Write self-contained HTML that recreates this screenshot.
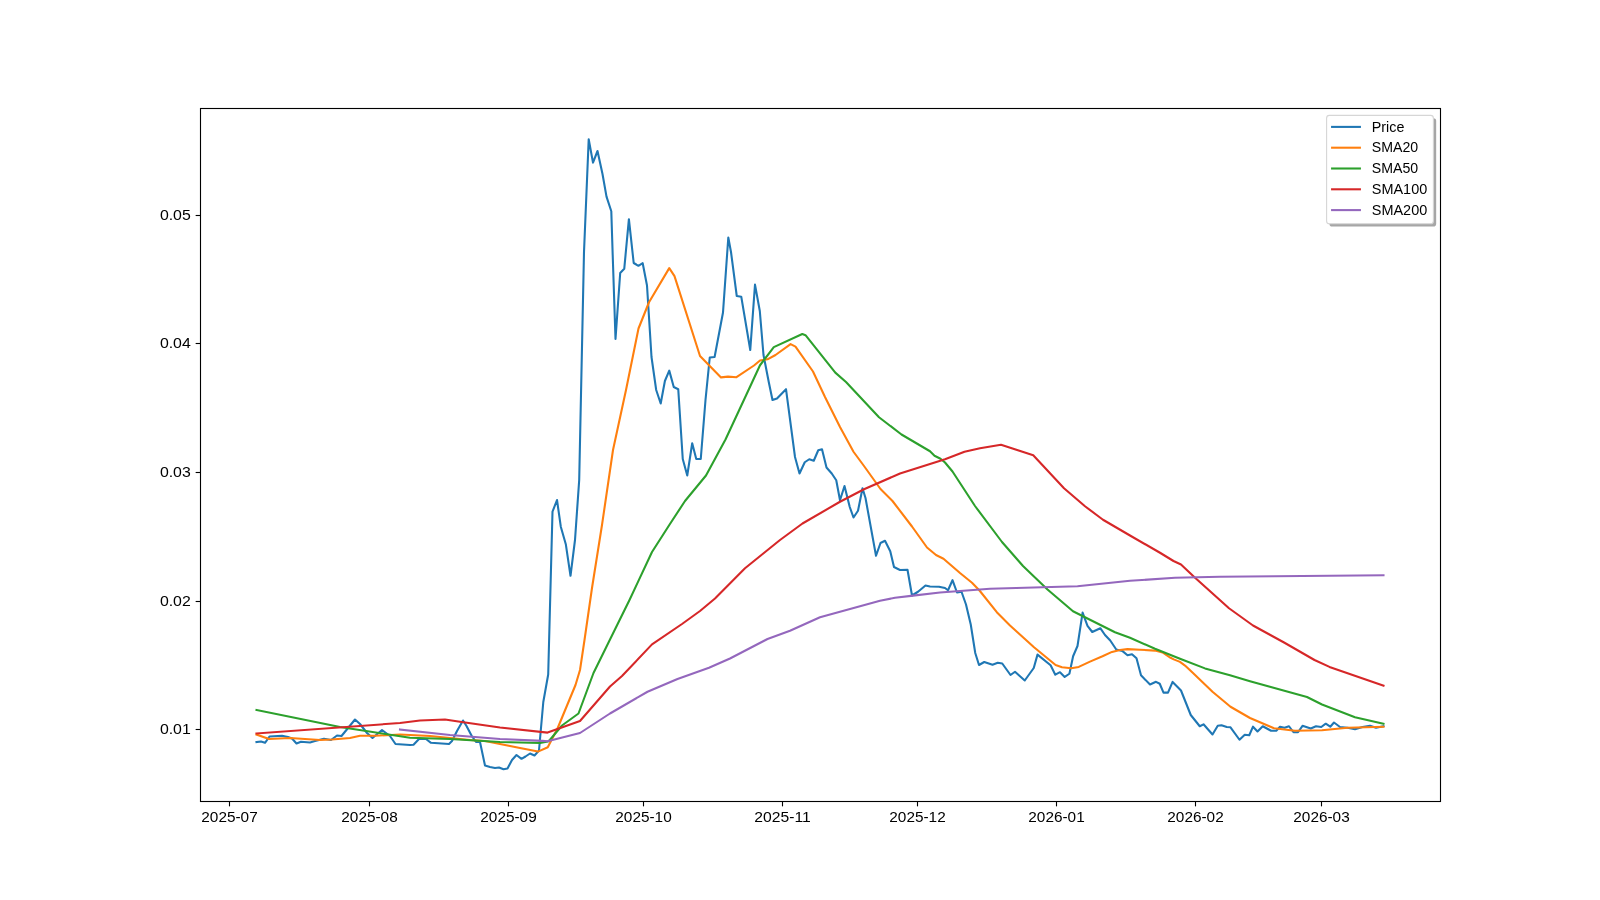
<!DOCTYPE html>
<html><head><meta charset="utf-8"><style>html,body{margin:0;padding:0;background:#fff;}svg{display:block;will-change:transform;}</style></head><body>
<svg width="1600" height="900" viewBox="0 0 1600 900">
<defs><clipPath id="ax"><rect x="200" y="108" width="1240" height="693"/></clipPath></defs>
<g clip-path="url(#ax)" fill="none" stroke-width="2.08" stroke-linejoin="round" stroke-linecap="square">
<polyline stroke="#1f77b4" points="256.5,742 261,741.5 265,742.8 269.5,736.5 282,735.8 288,737 292,738.5 296.5,743.5 301,741.8 310,742.5 315,741 324,738.7 331,740 337,735.5 341.5,736 355,719.5 360,724 367,733 372.5,738 382,730 390,736 395.5,744 410,745 413.5,744.8 419,739 426,739 431,742.8 449,744 452,741 457,731 463,720.5 466.5,726 471.5,735.5 476,742 480,742 485,765.5 490,767 495,768 499,767.5 503.5,769.3 507.5,768.5 512,760 516.5,755 521.5,758.8 525.5,756.5 530,753.5 534.5,755.5 539,750.5 543.3,702 548.2,674.5 552.5,511.7 557,500 560.8,526.7 565.8,544.2 570.5,575.8 575,540 579.2,480 584,252 588.7,139.2 593,162.6 597.5,151 602.5,174 606.5,196.6 611.3,211.2 612.7,255 615.5,339 620.2,273 624.25,268.8 628.9,219.2 633.7,263 638.4,265.8 642.7,263.2 647,285.5 651.5,357 656.2,390 660.7,403.5 664.9,381 669.25,370.6 673.75,387 678.25,389.25 682.75,459 687.25,475.5 692.2,443.25 696.25,459 700.75,459 705.5,400 709.75,357.5 714.6,357 723,312.5 728.3,237.5 731,252 736.75,296 741.25,296.7 750.25,350 755,284.6 759.8,311 763.5,355 768.75,382 772.5,400 777,398.5 786,389.2 795,457 799.5,473.5 804.75,462.25 809.25,459.25 813.75,460.75 818.25,450.25 822,449.2 826.5,467.5 831.75,473.5 836.25,480.25 840,500.25 844.5,486 849.75,507 853.5,517.5 858,510.75 862.5,488.25 865.5,498 876,555.75 880.5,543 885,540.75 890.25,551.25 894,567 900,570 907.5,569.7 912,595.5 918,591.75 925.5,585.45 930,586.5 939,586.8 945,588 948,590.25 952.5,580.2 957,592.5 961.5,591.75 966,604.5 970.75,624.5 975.25,653 979,665 984.25,662 992.5,664.7 997.75,662.75 1002.25,663.5 1010.5,675 1015,671.75 1024.75,680.5 1033.75,668 1037.5,654.6 1050.6,665.3 1055.3,674.7 1060,672.2 1064.7,676.9 1069.4,673.75 1073.1,656.25 1077.5,646 1082.6,612.6 1087.5,625.8 1092.25,632 1100.3,628.2 1105,635 1110.25,640.5 1116.25,649.5 1122.25,650.9 1127.5,655.25 1132,654.2 1136.5,658.3 1141,675.3 1150,684.5 1156,681.8 1159.75,683.75 1163.5,692.6 1168,692.6 1172.6,681.9 1181,690.5 1190.75,715 1199.75,726.25 1203.5,724.3 1212.5,734.5 1217.75,725.8 1221.5,725.2 1226.75,727 1230.5,727.3 1239.5,739.75 1244.75,734.8 1249.25,735.25 1253,726.7 1257.5,731.5 1262.75,726.25 1271,730.75 1276.25,730.75 1280,726.7 1284.5,727.75 1289,726.25 1293.5,732.25 1298,732.25 1302.5,725.8 1310.75,728.5 1316,726.25 1321.25,727 1325.75,723.7 1330.25,726.7 1334,722.5 1340,727 1347.5,727.75 1355,729.25 1362.5,727 1370,725.8 1376,727.75 1383.5,726.25"/>
<polyline stroke="#ff7f0e" points="256.5,734.5 269,739 290,738 320,740 332,739.5 350,738 360,735.8 375,735.8 400,734.5 430,736 470,740 485,741 520,748 538,751.6 547.75,747.25 557.5,728.5 575.5,685 580,670 584.5,640 592,588 602,525 613,450 626,390 638.5,328.5 649,302.25 669.25,268.1 674.5,276.1 700,356 721,377.4 728,376.6 736.5,377.2 754,365.5 760,360.5 767.5,359.3 775.5,355 790.6,344.1 795.5,346.7 813,371.5 825,397 840,427 853.5,451.75 864,466 880.5,489 892.5,501 912,526.5 927,547.5 936,555 943.5,558.75 960,573 972,582.75 979.5,590.5 996.8,612.2 1010,625.5 1034,647.25 1055.6,665 1062,667.2 1071.25,668.2 1078.75,666.9 1090,661.6 1102.5,656.25 1112,651.9 1120,650 1127.5,649.1 1140,649.7 1155,650.6 1162.5,652.5 1170.6,657.8 1173.75,659.4 1180,661.9 1185,665.6 1193,673 1212.5,691.75 1230.5,706.75 1250,718 1274,728.2 1295,730.75 1322,730.3 1347.5,727.75 1383.5,726.7"/>
<polyline stroke="#2ca02c" points="256.5,710 340,727 410,737.8 450,739 500,742 540,743 548,741.5 550,739.75 562,725.5 578.5,713.5 593.5,673 610,639.5 629.5,600 652,552 669.3,525 685,501 706,475.5 725.5,439.5 749,389 760,365.25 773.8,347.1 802.3,334 805.5,335.2 835.3,372.6 846,382 879,417.25 901.5,434.5 930,451.25 934.5,455.75 940.5,458.75 945,462.5 952.5,471.5 975,506 1002,542 1023,566 1047.5,589.5 1073,611.25 1085,617.25 1115,632.25 1130,637.8 1155,648.75 1180,658.75 1205,668.4 1230,675.3 1250,681.25 1307,697 1322,704.5 1355,717.25 1383.5,723.7"/>
<polyline stroke="#d62728" points="256.5,733.5 400,723 420,720.5 445,719.5 460,721.8 500,727.5 547.6,732.6 580,721 610,686.5 622,676 652,644.4 682,624 700,611 715,598.5 745,568.2 780,540 802.5,523.5 840,501.75 864,489.25 900,473.5 945,459.25 964.5,451.75 980,448.2 1001,444.75 1033.25,455.25 1064,488.25 1085,506.25 1103,519.75 1130,535.5 1160,552.75 1173.5,561 1181,564.5 1194.5,577.2 1229,608.25 1253,625.5 1284.5,642.75 1314.5,660 1329.5,666.9 1383.5,685.75"/>
<polyline stroke="#9467bd" points="400,729.5 450,735 500,739 542.5,740.9 547.5,741.2 580,733 610,713.5 647.5,691.75 677.5,679 709,667.75 730,658.5 767.5,639 790,630.75 820,617.25 850,609 880,600.75 895,597.75 911,595.9 940,592.5 960,591 990,588.75 1025,587.7 1077.5,586.2 1130,580.8 1175,577.8 1220,576.75 1383.5,575.25"/>
</g>
<rect x="200.5" y="108.5" width="1240" height="693" fill="none" stroke="#000" stroke-width="1.11" stroke-linejoin="miter"/>
<g stroke="#000" stroke-width="1.11">
<line x1="195.64" y1="729.5" x2="200.5" y2="729.5"/>
<line x1="195.64" y1="601.5" x2="200.5" y2="601.5"/>
<line x1="195.64" y1="472.5" x2="200.5" y2="472.5"/>
<line x1="195.64" y1="343.5" x2="200.5" y2="343.5"/>
<line x1="195.64" y1="215.5" x2="200.5" y2="215.5"/>
<line x1="229.5" y1="801.5" x2="229.5" y2="806.36"/>
<line x1="369.5" y1="801.5" x2="369.5" y2="806.36"/>
<line x1="508.5" y1="801.5" x2="508.5" y2="806.36"/>
<line x1="643.5" y1="801.5" x2="643.5" y2="806.36"/>
<line x1="782.5" y1="801.5" x2="782.5" y2="806.36"/>
<line x1="917.5" y1="801.5" x2="917.5" y2="806.36"/>
<line x1="1056.5" y1="801.5" x2="1056.5" y2="806.36"/>
<line x1="1195.5" y1="801.5" x2="1195.5" y2="806.36"/>
<line x1="1321.5" y1="801.5" x2="1321.5" y2="806.36"/>
</g>
<g font-family='"Liberation Sans", sans-serif' font-size="13.89" fill="#000">
<text x="190.8" y="733.80" text-anchor="end" textLength="30.9" lengthAdjust="spacingAndGlyphs">0.01</text>
<text x="190.8" y="605.80" text-anchor="end" textLength="30.9" lengthAdjust="spacingAndGlyphs">0.02</text>
<text x="190.8" y="476.80" text-anchor="end" textLength="30.9" lengthAdjust="spacingAndGlyphs">0.03</text>
<text x="190.8" y="347.80" text-anchor="end" textLength="30.9" lengthAdjust="spacingAndGlyphs">0.04</text>
<text x="190.8" y="219.80" text-anchor="end" textLength="30.9" lengthAdjust="spacingAndGlyphs">0.05</text>
<text x="229.5" y="821.7" text-anchor="middle" textLength="56.4" lengthAdjust="spacingAndGlyphs">2025-07</text>
<text x="369.5" y="821.7" text-anchor="middle" textLength="56.4" lengthAdjust="spacingAndGlyphs">2025-08</text>
<text x="508.5" y="821.7" text-anchor="middle" textLength="56.4" lengthAdjust="spacingAndGlyphs">2025-09</text>
<text x="643.5" y="821.7" text-anchor="middle" textLength="56.4" lengthAdjust="spacingAndGlyphs">2025-10</text>
<text x="782.5" y="821.7" text-anchor="middle" textLength="56.4" lengthAdjust="spacingAndGlyphs">2025-11</text>
<text x="917.5" y="821.7" text-anchor="middle" textLength="56.4" lengthAdjust="spacingAndGlyphs">2025-12</text>
<text x="1056.5" y="821.7" text-anchor="middle" textLength="56.4" lengthAdjust="spacingAndGlyphs">2026-01</text>
<text x="1195.5" y="821.7" text-anchor="middle" textLength="56.4" lengthAdjust="spacingAndGlyphs">2026-02</text>
<text x="1321.5" y="821.7" text-anchor="middle" textLength="56.4" lengthAdjust="spacingAndGlyphs">2026-03</text>
</g>
<rect x="1329.3799999999999" y="118.18" width="106.80000000000018" height="108.4" rx="2.8" fill="#4d4d4d" fill-opacity="0.5"/>
<rect x="1326.6" y="115.4" width="106.80000000000018" height="108.4" rx="2.8" fill="#ffffff" stroke="#d6d6d6" stroke-width="1.11"/>
<line x1="1332.1" y1="126.90" x2="1359.9" y2="126.90" stroke="#1f77b4" stroke-width="2.08" stroke-linecap="square"/>
<text x="1371.8" y="131.60" font-family='"Liberation Sans", sans-serif' font-size="13.89" fill="#000" textLength="32.6" lengthAdjust="spacingAndGlyphs">Price</text>
<line x1="1332.1" y1="147.70" x2="1359.9" y2="147.70" stroke="#ff7f0e" stroke-width="2.08" stroke-linecap="square"/>
<text x="1371.8" y="152.40" font-family='"Liberation Sans", sans-serif' font-size="13.89" fill="#000" textLength="46.4" lengthAdjust="spacingAndGlyphs">SMA20</text>
<line x1="1332.1" y1="168.50" x2="1359.9" y2="168.50" stroke="#2ca02c" stroke-width="2.08" stroke-linecap="square"/>
<text x="1371.8" y="173.20" font-family='"Liberation Sans", sans-serif' font-size="13.89" fill="#000" textLength="46.4" lengthAdjust="spacingAndGlyphs">SMA50</text>
<line x1="1332.1" y1="189.30" x2="1359.9" y2="189.30" stroke="#d62728" stroke-width="2.08" stroke-linecap="square"/>
<text x="1371.8" y="194.00" font-family='"Liberation Sans", sans-serif' font-size="13.89" fill="#000" textLength="55.4" lengthAdjust="spacingAndGlyphs">SMA100</text>
<line x1="1332.1" y1="210.10" x2="1359.9" y2="210.10" stroke="#9467bd" stroke-width="2.08" stroke-linecap="square"/>
<text x="1371.8" y="214.80" font-family='"Liberation Sans", sans-serif' font-size="13.89" fill="#000" textLength="55.4" lengthAdjust="spacingAndGlyphs">SMA200</text>
</svg></body></html>
